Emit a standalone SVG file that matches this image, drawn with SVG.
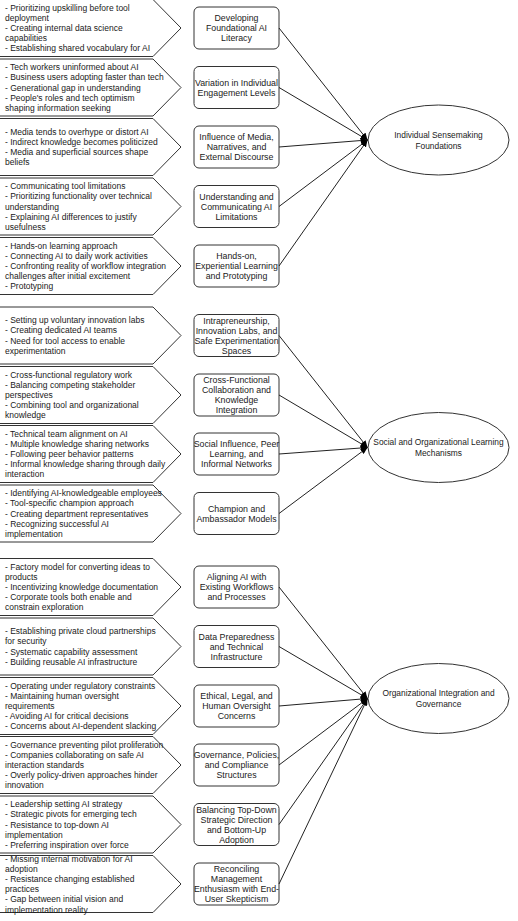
<svg xmlns="http://www.w3.org/2000/svg" width="518" height="921" viewBox="0 0 518 921">
<style>
.chev{fill:#fff;stroke:#333;stroke-width:1}
.box{fill:#fff;stroke:#333;stroke-width:1}
.ell{fill:#fff;stroke:#333;stroke-width:1}
.lt{font-family:"Liberation Sans",Arial,sans-serif;font-size:8.5px;fill:#1a1a1a}
.bt{font-family:"Liberation Sans",Arial,sans-serif;font-size:8.8px;fill:#1a1a1a;text-anchor:middle}
.et{font-family:"Liberation Sans",Arial,sans-serif;font-size:8.4px;fill:#1a1a1a;text-anchor:middle}
.con{stroke:#222;stroke-width:1;fill:none;marker-end:url(#ah)}
</style>
<defs>
<marker id="ah" markerUnits="userSpaceOnUse" markerWidth="8" markerHeight="6" refX="7" refY="3" orient="auto">
<path d="M0,0 L7,3 L0,6 Z" fill="#000"/>
</marker>
</defs>
<rect width="518" height="921" fill="#fff"/>

<!-- Left chevrons -->
<g id="s1"><path class="chev" d="M-2,-0.5 H153 L181,28 L153,56.5 H-2 Z"/>
<text class="lt" y="10.6"><tspan x="5">- Prioritizing upskilling before tool</tspan><tspan x="5" dy="10.2">deployment</tspan><tspan x="5" dy="10.2">- Creating internal data science</tspan><tspan x="5" dy="10.2">capabilities</tspan><tspan x="5" dy="10.2">- Establishing shared vocabulary for AI</tspan></text></g>
<g id="s2"><path class="chev" d="M-2,59 H153 L181,87.5 L153,116 H-2 Z"/>
<text class="lt" y="70.1"><tspan x="5">- Tech workers uninformed about AI</tspan><tspan x="5" dy="10.2">- Business users adopting faster than tech</tspan><tspan x="5" dy="10.2">- Generational gap in understanding</tspan><tspan x="5" dy="10.2">- People's roles and tech optimism</tspan><tspan x="5" dy="10.2">shaping information seeking</tspan></text></g>
<g id="s3"><path class="chev" d="M-2,118.5 H153 L181,147 L153,175.5 H-2 Z"/>
<text class="lt" y="134.7"><tspan x="5">- Media tends to overhype or distort AI</tspan><tspan x="5" dy="10.2">- Indirect knowledge becomes politicized</tspan><tspan x="5" dy="10.2">- Media and superficial sources shape</tspan><tspan x="5" dy="10.2">beliefs</tspan></text></g>
<g id="s4"><path class="chev" d="M-2,178 H153 L181,206.5 L153,235 H-2 Z"/>
<text class="lt" y="189.1"><tspan x="5">- Communicating tool limitations</tspan><tspan x="5" dy="10.2">- Prioritizing functionality over technical</tspan><tspan x="5" dy="10.2">understanding</tspan><tspan x="5" dy="10.2">- Explaining AI differences to justify</tspan><tspan x="5" dy="10.2">usefulness</tspan></text></g>
<g id="s5"><path class="chev" d="M-2,237.5 H153 L181,266 L153,294.5 H-2 Z"/>
<text class="lt" y="248.6"><tspan x="5">- Hands-on learning approach</tspan><tspan x="5" dy="10.2">- Connecting AI to daily work activities</tspan><tspan x="5" dy="10.2">- Confronting reality of workflow integration</tspan><tspan x="5" dy="10.2">challenges after initial excitement</tspan><tspan x="5" dy="10.2">- Prototyping</tspan></text></g>

<g id="s6"><path class="chev" d="M-2,307 H153 L181,335.5 L153,364 H-2 Z"/>
<text class="lt" y="323.2"><tspan x="5">- Setting up voluntary innovation labs</tspan><tspan x="5" dy="10.2">- Creating dedicated AI teams</tspan><tspan x="5" dy="10.2">- Need for tool access to enable</tspan><tspan x="5" dy="10.2">experimentation</tspan></text></g>
<g id="s7"><path class="chev" d="M-2,366.5 H153 L181,395 L153,423.5 H-2 Z"/>
<text class="lt" y="377.6"><tspan x="5">- Cross-functional regulatory work</tspan><tspan x="5" dy="10.2">- Balancing competing stakeholder</tspan><tspan x="5" dy="10.2">perspectives</tspan><tspan x="5" dy="10.2">- Combining tool and organizational</tspan><tspan x="5" dy="10.2">knowledge</tspan></text></g>
<g id="s8"><path class="chev" d="M-2,425.5 H153 L181,454 L153,482.5 H-2 Z"/>
<text class="lt" y="436.6"><tspan x="5">- Technical team alignment on AI</tspan><tspan x="5" dy="10.2">- Multiple knowledge sharing networks</tspan><tspan x="5" dy="10.2">- Following peer behavior patterns</tspan><tspan x="5" dy="10.2">- Informal knowledge sharing through daily</tspan><tspan x="5" dy="10.2">interaction</tspan></text></g>
<g id="s9"><path class="chev" d="M-2,485 H153 L181,513.5 L153,542 H-2 Z"/>
<text class="lt" y="496.1"><tspan x="5">- Identifying AI-knowledgeable employees</tspan><tspan x="5" dy="10.2">- Tool-specific champion approach</tspan><tspan x="5" dy="10.2">- Creating department representatives</tspan><tspan x="5" dy="10.2">- Recognizing successful AI</tspan><tspan x="5" dy="10.2">implementation</tspan></text></g>

<g id="s10"><path class="chev" d="M-2,558.5 H153 L181,587 L153,615.5 H-2 Z"/>
<text class="lt" y="569.6"><tspan x="5">- Factory model for converting ideas to</tspan><tspan x="5" dy="10.2">products</tspan><tspan x="5" dy="10.2">- Incentivizing knowledge documentation</tspan><tspan x="5" dy="10.2">- Corporate tools both enable and</tspan><tspan x="5" dy="10.2">constrain exploration</tspan></text></g>
<g id="s11"><path class="chev" d="M-2,618 H153 L181,646.5 L153,675 H-2 Z"/>
<text class="lt" y="634.2"><tspan x="5">- Establishing private cloud partnerships</tspan><tspan x="5" dy="10.2">for security</tspan><tspan x="5" dy="10.2">- Systematic capability assessment</tspan><tspan x="5" dy="10.2">- Building reusable AI infrastructure</tspan></text></g>
<g id="s12"><path class="chev" d="M-2,677.5 H153 L181,706 L153,734.5 H-2 Z"/>
<text class="lt" y="688.6"><tspan x="5">- Operating under regulatory constraints</tspan><tspan x="5" dy="10.2">- Maintaining human oversight</tspan><tspan x="5" dy="10.2">requirements</tspan><tspan x="5" dy="10.2">- Avoiding AI for critical decisions</tspan><tspan x="5" dy="10.2">- Concerns about AI-dependent slacking</tspan></text></g>
<g id="s13"><path class="chev" d="M-2,736.5 H153 L181,765 L153,793.5 H-2 Z"/>
<text class="lt" y="747.6"><tspan x="5">- Governance preventing pilot proliferation</tspan><tspan x="5" dy="10.2">- Companies collaborating on safe AI</tspan><tspan x="5" dy="10.2">interaction standards</tspan><tspan x="5" dy="10.2">- Overly policy-driven approaches hinder</tspan><tspan x="5" dy="10.2">innovation</tspan></text></g>
<g id="s14"><path class="chev" d="M-2,796 H153 L181,824.5 L153,853 H-2 Z"/>
<text class="lt" y="807.1"><tspan x="5">- Leadership setting AI strategy</tspan><tspan x="5" dy="10.2">- Strategic pivots for emerging tech</tspan><tspan x="5" dy="10.2">- Resistance to top-down AI</tspan><tspan x="5" dy="10.2">implementation</tspan><tspan x="5" dy="10.2">- Preferring inspiration over force</tspan></text></g>
<g id="s15"><path class="chev" d="M-2,855.5 H153 L181,884 L153,912.5 H-2 Z"/>
<text class="lt" y="861.5"><tspan x="5">- Missing internal motivation for AI</tspan><tspan x="5" dy="10.2">adoption</tspan><tspan x="5" dy="10.2">- Resistance changing established</tspan><tspan x="5" dy="10.2">practices</tspan><tspan x="5" dy="10.2">- Gap between initial vision and</tspan><tspan x="5" dy="10.2">implementation reality</tspan></text></g>

<!-- Middle boxes -->
<g id="b1"><rect class="box" x="194" y="7" width="85" height="42" rx="5"/>
<text class="bt" y="21"><tspan x="236.5">Developing</tspan><tspan x="236.5" dy="10">Foundational AI</tspan><tspan x="236.5" dy="10">Literacy</tspan></text></g>
<g id="b2"><rect class="box" x="194" y="66.5" width="85" height="42" rx="5"/>
<text class="bt" y="85.5"><tspan x="236.5">Variation in Individual</tspan><tspan x="236.5" dy="10">Engagement Levels</tspan></text></g>
<g id="b3"><rect class="box" x="194" y="126" width="85" height="42" rx="5"/>
<text class="bt" y="140"><tspan x="236.5">Influence of Media,</tspan><tspan x="236.5" dy="10">Narratives, and</tspan><tspan x="236.5" dy="10">External Discourse</tspan></text></g>
<g id="b4"><rect class="box" x="194" y="185.5" width="85" height="42" rx="5"/>
<text class="bt" y="199.5"><tspan x="236.5">Understanding and</tspan><tspan x="236.5" dy="10">Communicating AI</tspan><tspan x="236.5" dy="10">Limitations</tspan></text></g>
<g id="b5"><rect class="box" x="194" y="245" width="85" height="42" rx="5"/>
<text class="bt" y="259"><tspan x="236.5">Hands-on,</tspan><tspan x="236.5" dy="10">Experiential Learning</tspan><tspan x="236.5" dy="10">and Prototyping</tspan></text></g>

<g id="b6"><rect class="box" x="194" y="314.5" width="85" height="42" rx="5"/>
<text class="bt" y="323.5"><tspan x="236.5">Intrapreneurship,</tspan><tspan x="236.5" dy="10">Innovation Labs, and</tspan><tspan x="236.5" dy="10">Safe Experimentation</tspan><tspan x="236.5" dy="10">Spaces</tspan></text></g>
<g id="b7"><rect class="box" x="194" y="374" width="85" height="42" rx="5"/>
<text class="bt" y="383"><tspan x="236.5">Cross-Functional</tspan><tspan x="236.5" dy="10">Collaboration and</tspan><tspan x="236.5" dy="10">Knowledge</tspan><tspan x="236.5" dy="10">Integration</tspan></text></g>
<g id="b8"><rect class="box" x="194" y="433" width="85" height="42" rx="5"/>
<text class="bt" y="447"><tspan x="236.5">Social Influence, Peer</tspan><tspan x="236.5" dy="10">Learning, and</tspan><tspan x="236.5" dy="10">Informal Networks</tspan></text></g>
<g id="b9"><rect class="box" x="194" y="492.5" width="85" height="42" rx="5"/>
<text class="bt" y="511.5"><tspan x="236.5">Champion and</tspan><tspan x="236.5" dy="10">Ambassador Models</tspan></text></g>

<g id="b10"><rect class="box" x="194" y="566" width="85" height="42" rx="5"/>
<text class="bt" y="580"><tspan x="236.5">Aligning AI with</tspan><tspan x="236.5" dy="10">Existing Workflows</tspan><tspan x="236.5" dy="10">and Processes</tspan></text></g>
<g id="b11"><rect class="box" x="194" y="625.5" width="85" height="42" rx="5"/>
<text class="bt" y="639.5"><tspan x="236.5">Data Preparedness</tspan><tspan x="236.5" dy="10">and Technical</tspan><tspan x="236.5" dy="10">Infrastructure</tspan></text></g>
<g id="b12"><rect class="box" x="194" y="685" width="85" height="42" rx="5"/>
<text class="bt" y="699"><tspan x="236.5">Ethical, Legal, and</tspan><tspan x="236.5" dy="10">Human Oversight</tspan><tspan x="236.5" dy="10">Concerns</tspan></text></g>
<g id="b13"><rect class="box" x="194" y="744" width="85" height="42" rx="5"/>
<text class="bt" y="758"><tspan x="236.5">Governance, Policies,</tspan><tspan x="236.5" dy="10">and Compliance</tspan><tspan x="236.5" dy="10">Structures</tspan></text></g>
<g id="b14"><rect class="box" x="194" y="803.5" width="85" height="42" rx="5"/>
<text class="bt" y="812.5"><tspan x="236.5">Balancing Top-Down</tspan><tspan x="236.5" dy="10">Strategic Direction</tspan><tspan x="236.5" dy="10">and Bottom-Up</tspan><tspan x="236.5" dy="10">Adoption</tspan></text></g>
<g id="b15"><rect class="box" x="194" y="863" width="85" height="42" rx="5"/>
<text class="bt" y="872"><tspan x="236.5">Reconciling</tspan><tspan x="236.5" dy="10">Management</tspan><tspan x="236.5" dy="10">Enthusiasm with End-</tspan><tspan x="236.5" dy="10">User Skepticism</tspan></text></g>

<!-- Ellipses -->
<g id="e1"><ellipse class="ell" cx="438.5" cy="140" rx="70.5" ry="35"/>
<text class="et" y="137.5"><tspan x="438.5">Individual Sensemaking</tspan><tspan x="438.5" dy="11">Foundations</tspan></text></g>
<g id="e2"><ellipse class="ell" cx="438.5" cy="447.5" rx="70.5" ry="35"/>
<text class="et" y="445"><tspan x="438.5">Social and Organizational Learning</tspan><tspan x="438.5" dy="11">Mechanisms</tspan></text></g>
<g id="e3"><ellipse class="ell" cx="438.5" cy="698.5" rx="70.5" ry="35"/>
<text class="et" y="696"><tspan x="438.5">Organizational Integration and</tspan><tspan x="438.5" dy="11">Governance</tspan></text></g>

<!-- Connectors -->
<g id="connectors">
<line class="con" x1="279" y1="28" x2="367.5" y2="140"/>
<line class="con" x1="279" y1="87.5" x2="367.5" y2="140"/>
<line class="con" x1="279" y1="147" x2="367.5" y2="140"/>
<line class="con" x1="279" y1="206.5" x2="367.5" y2="140"/>
<line class="con" x1="279" y1="266" x2="367.5" y2="140"/>
<line class="con" x1="279" y1="335.5" x2="367.5" y2="447.5"/>
<line class="con" x1="279" y1="395" x2="367.5" y2="447.5"/>
<line class="con" x1="279" y1="454" x2="367.5" y2="447.5"/>
<line class="con" x1="279" y1="513.5" x2="367.5" y2="447.5"/>
<line class="con" x1="279" y1="587" x2="367.5" y2="698.5"/>
<line class="con" x1="279" y1="646.5" x2="367.5" y2="698.5"/>
<line class="con" x1="279" y1="706" x2="367.5" y2="698.5"/>
<line class="con" x1="279" y1="765" x2="367.5" y2="698.5"/>
<line class="con" x1="279" y1="824.5" x2="367.5" y2="698.5"/>
<line class="con" x1="279" y1="884" x2="367.5" y2="698.5"/>
</g>
</svg>
